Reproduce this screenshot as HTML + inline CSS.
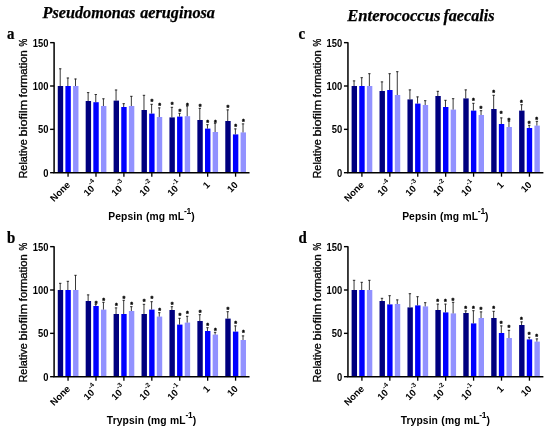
<!DOCTYPE html>
<html><head><meta charset="utf-8"><title>Figure</title>
<style>html,body{margin:0;padding:0;background:#fff}svg{display:block}</style></head>
<body>
<svg width="550" height="432" viewBox="0 0 550 432">
<rect width="550" height="432" fill="#fff"/>
<g font-family="'Liberation Serif', serif" font-weight="bold" fill="#000" stroke="#000" stroke-width="0.25">
<text x="42.6" y="17.9" font-size="16.3" font-style="italic" textLength="92.6" lengthAdjust="spacingAndGlyphs">Pseudomonas</text>
<text x="140.2" y="17.9" font-size="16.3" font-style="italic" textLength="74.8" lengthAdjust="spacingAndGlyphs">aeruginosa</text>
<text x="347.3" y="21" font-size="16.3" font-style="italic" textLength="93.1" lengthAdjust="spacingAndGlyphs">Enterococcus</text>
<text x="443.4" y="21" font-size="16.3" font-style="italic" textLength="51.1" lengthAdjust="spacingAndGlyphs">faecalis</text>
<text transform="translate(7.0 38.6) scale(0.9 1)" font-size="16.5">a</text>
<text transform="translate(7.0 242.9) scale(0.9 1)" font-size="16.5">b</text>
<text transform="translate(298.4 38.6) scale(0.9 1)" font-size="16.5">c</text>
<text transform="translate(298.4 242.9) scale(0.9 1)" font-size="16.5">d</text>
</g>
<g id="chart-a">
<rect x="57.76" y="86.00" width="5.4" height="86.70" fill="#00007f"/>
<path d="M60.21 86.00V68.50M59.01 68.80H61.41" stroke="#222" stroke-width="0.9" fill="none"/>
<rect x="65.41" y="86.00" width="5.4" height="86.70" fill="#0000ff"/>
<path d="M67.86 86.00V77.70M66.66 78.00H69.06" stroke="#222" stroke-width="0.9" fill="none"/>
<rect x="73.06" y="86.00" width="5.4" height="86.70" fill="#9292ff"/>
<path d="M75.51 86.00V78.70M74.31 79.00H76.71" stroke="#222" stroke-width="0.9" fill="none"/>
<rect x="85.68" y="101.00" width="5.4" height="71.70" fill="#00007f"/>
<path d="M88.13 101.00V92.30M86.93 92.60H89.33" stroke="#222" stroke-width="0.9" fill="none"/>
<rect x="93.33" y="102.20" width="5.4" height="70.50" fill="#0000ff"/>
<path d="M95.78 102.20V94.20M94.58 94.50H96.98" stroke="#222" stroke-width="0.9" fill="none"/>
<rect x="100.98" y="106.00" width="5.4" height="66.70" fill="#9292ff"/>
<path d="M103.43 106.00V98.50M102.23 98.80H104.63" stroke="#222" stroke-width="0.9" fill="none"/>
<rect x="113.60" y="100.60" width="5.4" height="72.10" fill="#00007f"/>
<path d="M116.05 100.60V89.70M114.85 90.00H117.25" stroke="#222" stroke-width="0.9" fill="none"/>
<rect x="121.25" y="107.00" width="5.4" height="65.70" fill="#0000ff"/>
<path d="M123.70 107.00V103.40M122.50 103.70H124.90" stroke="#222" stroke-width="0.9" fill="none"/>
<rect x="128.90" y="106.00" width="5.4" height="66.70" fill="#9292ff"/>
<path d="M131.35 106.00V96.00M130.15 96.30H132.55" stroke="#222" stroke-width="0.9" fill="none"/>
<rect x="141.52" y="110.00" width="5.4" height="62.70" fill="#00007f"/>
<path d="M143.97 110.00V95.00M142.77 95.30H145.17" stroke="#222" stroke-width="0.9" fill="none"/>
<rect x="149.17" y="113.60" width="5.4" height="59.10" fill="#0000ff"/>
<path d="M151.62 113.60V104.00M150.42 104.30H152.82" stroke="#222" stroke-width="0.9" fill="none"/>
<text x="151.92" y="104.40" font-family="'Liberation Sans', sans-serif" font-weight="bold" font-size="7.2" text-anchor="middle" fill="#000" stroke="#000" stroke-width="0.4">*</text>
<rect x="156.82" y="117.00" width="5.4" height="55.70" fill="#9292ff"/>
<path d="M159.27 117.00V107.60M158.07 107.90H160.47" stroke="#222" stroke-width="0.9" fill="none"/>
<text x="159.57" y="108.20" font-family="'Liberation Sans', sans-serif" font-weight="bold" font-size="7.2" text-anchor="middle" fill="#000" stroke="#000" stroke-width="0.4">*</text>
<rect x="169.44" y="117.40" width="5.4" height="55.30" fill="#00007f"/>
<path d="M171.89 117.40V107.00M170.69 107.30H173.09" stroke="#222" stroke-width="0.9" fill="none"/>
<text x="172.19" y="107.20" font-family="'Liberation Sans', sans-serif" font-weight="bold" font-size="7.2" text-anchor="middle" fill="#000" stroke="#000" stroke-width="0.4">*</text>
<rect x="177.09" y="116.60" width="5.4" height="56.10" fill="#0000ff"/>
<path d="M179.54 116.60V113.00M178.34 113.30H180.74" stroke="#222" stroke-width="0.9" fill="none"/>
<text x="179.84" y="113.80" font-family="'Liberation Sans', sans-serif" font-weight="bold" font-size="7.2" text-anchor="middle" fill="#000" stroke="#000" stroke-width="0.4">*</text>
<rect x="184.74" y="116.20" width="5.4" height="56.50" fill="#9292ff"/>
<path d="M187.19 116.20V105.80M185.99 106.10H188.39" stroke="#222" stroke-width="0.9" fill="none"/>
<text x="187.49" y="107.80" font-family="'Liberation Sans', sans-serif" font-weight="bold" font-size="7.2" text-anchor="middle" fill="#000" stroke="#000" stroke-width="0.4">*</text>
<rect x="197.36" y="120.00" width="5.4" height="52.70" fill="#00007f"/>
<path d="M199.81 120.00V108.00M198.61 108.30H201.01" stroke="#222" stroke-width="0.9" fill="none"/>
<text x="200.11" y="108.80" font-family="'Liberation Sans', sans-serif" font-weight="bold" font-size="7.2" text-anchor="middle" fill="#000" stroke="#000" stroke-width="0.4">*</text>
<rect x="205.01" y="128.60" width="5.4" height="44.10" fill="#0000ff"/>
<path d="M207.46 128.60V124.40M206.26 124.70H208.66" stroke="#222" stroke-width="0.9" fill="none"/>
<text x="207.76" y="125.30" font-family="'Liberation Sans', sans-serif" font-weight="bold" font-size="7.2" text-anchor="middle" fill="#000" stroke="#000" stroke-width="0.4">*</text>
<rect x="212.66" y="132.00" width="5.4" height="40.70" fill="#9292ff"/>
<path d="M215.11 132.00V123.00M213.91 123.30H216.31" stroke="#222" stroke-width="0.9" fill="none"/>
<text x="215.41" y="124.80" font-family="'Liberation Sans', sans-serif" font-weight="bold" font-size="7.2" text-anchor="middle" fill="#000" stroke="#000" stroke-width="0.4">*</text>
<rect x="225.28" y="121.00" width="5.4" height="51.70" fill="#00007f"/>
<path d="M227.73 121.00V109.60M226.53 109.90H228.93" stroke="#222" stroke-width="0.9" fill="none"/>
<text x="228.03" y="109.80" font-family="'Liberation Sans', sans-serif" font-weight="bold" font-size="7.2" text-anchor="middle" fill="#000" stroke="#000" stroke-width="0.4">*</text>
<rect x="232.93" y="134.40" width="5.4" height="38.30" fill="#0000ff"/>
<path d="M235.38 134.40V128.60M234.18 128.90H236.58" stroke="#222" stroke-width="0.9" fill="none"/>
<text x="235.68" y="129.40" font-family="'Liberation Sans', sans-serif" font-weight="bold" font-size="7.2" text-anchor="middle" fill="#000" stroke="#000" stroke-width="0.4">*</text>
<rect x="240.58" y="132.40" width="5.4" height="40.30" fill="#9292ff"/>
<path d="M243.03 132.40V123.60M241.83 123.90H244.23" stroke="#222" stroke-width="0.9" fill="none"/>
<text x="243.33" y="124.40" font-family="'Liberation Sans', sans-serif" font-weight="bold" font-size="7.2" text-anchor="middle" fill="#000" stroke="#000" stroke-width="0.4">*</text>
<path d="M54.1 42.15V172.7H249.54" stroke="#000" stroke-width="1.5" fill="none"/>
<path d="M50.10 172.70H54.1" stroke="#000" stroke-width="1.4"/>
<text transform="translate(48.40 176.70) scale(0.94 1)" font-family="'Liberation Sans', sans-serif" font-weight="bold" font-size="10" text-anchor="end">0</text>
<path d="M50.10 129.35H54.1" stroke="#000" stroke-width="1.4"/>
<text transform="translate(48.40 133.35) scale(0.94 1)" font-family="'Liberation Sans', sans-serif" font-weight="bold" font-size="10" text-anchor="end">50</text>
<path d="M50.10 86.00H54.1" stroke="#000" stroke-width="1.4"/>
<text transform="translate(48.40 90.00) scale(0.94 1)" font-family="'Liberation Sans', sans-serif" font-weight="bold" font-size="10" text-anchor="end">100</text>
<path d="M50.10 42.65H54.1" stroke="#000" stroke-width="1.4"/>
<text transform="translate(48.40 46.65) scale(0.94 1)" font-family="'Liberation Sans', sans-serif" font-weight="bold" font-size="10" text-anchor="end">150</text>
<path d="M68.06 172.7V176.70" stroke="#000" stroke-width="1.3"/>
<text transform="translate(70.86 185.40) rotate(-45)" font-family="'Liberation Sans', sans-serif" font-weight="bold" font-size="9.5" text-anchor="end">None</text>
<path d="M95.98 172.7V176.70" stroke="#000" stroke-width="1.3"/>
<text transform="translate(98.78 185.40) rotate(-45)" font-family="'Liberation Sans', sans-serif" font-weight="bold" font-size="9.5" text-anchor="end">10<tspan font-size="6.5" dy="-5.8" dx="-0.3">-4</tspan></text>
<path d="M123.90 172.7V176.70" stroke="#000" stroke-width="1.3"/>
<text transform="translate(126.70 185.40) rotate(-45)" font-family="'Liberation Sans', sans-serif" font-weight="bold" font-size="9.5" text-anchor="end">10<tspan font-size="6.5" dy="-5.8" dx="-0.3">-3</tspan></text>
<path d="M151.82 172.7V176.70" stroke="#000" stroke-width="1.3"/>
<text transform="translate(154.62 185.40) rotate(-45)" font-family="'Liberation Sans', sans-serif" font-weight="bold" font-size="9.5" text-anchor="end">10<tspan font-size="6.5" dy="-5.8" dx="-0.3">-2</tspan></text>
<path d="M179.74 172.7V176.70" stroke="#000" stroke-width="1.3"/>
<text transform="translate(182.54 185.40) rotate(-45)" font-family="'Liberation Sans', sans-serif" font-weight="bold" font-size="9.5" text-anchor="end">10<tspan font-size="6.5" dy="-5.8" dx="-0.3">-1</tspan></text>
<path d="M207.66 172.7V176.70" stroke="#000" stroke-width="1.3"/>
<text transform="translate(210.46 185.40) rotate(-45)" font-family="'Liberation Sans', sans-serif" font-weight="bold" font-size="9.5" text-anchor="end">1</text>
<path d="M235.58 172.7V176.70" stroke="#000" stroke-width="1.3"/>
<text transform="translate(238.38 185.40) rotate(-45)" font-family="'Liberation Sans', sans-serif" font-weight="bold" font-size="9.5" text-anchor="end">10</text>
<text transform="translate(26.80 178.50) rotate(-90)" font-family="'Liberation Sans', sans-serif" font-size="10.3" textLength="39.3" lengthAdjust="spacingAndGlyphs" stroke="#000" stroke-width="0.3">Relative</text>
<text transform="translate(26.80 136.50) rotate(-90)" font-family="'Liberation Sans', sans-serif" font-size="10.3" textLength="36.7" lengthAdjust="spacingAndGlyphs" stroke="#000" stroke-width="0.3">biofilm</text>
<text transform="translate(26.80 97.20) rotate(-90)" font-family="'Liberation Sans', sans-serif" font-size="10.3" textLength="47.0" lengthAdjust="spacingAndGlyphs" stroke="#000" stroke-width="0.3">formation</text>
<text transform="translate(26.80 46.50) rotate(-90)" font-family="'Liberation Sans', sans-serif" font-size="10.3" textLength="7.8" lengthAdjust="spacingAndGlyphs" stroke="#000" stroke-width="0.3">%</text>
<text x="151.52" y="219.70" font-family="'Liberation Sans', sans-serif" font-weight="bold" font-size="10.3" text-anchor="middle" letter-spacing="0.1" word-spacing="0.4">Pepsin (mg mL<tspan font-size="8.5" dy="-5.6" dx="-0.2" letter-spacing="-0.3">-1</tspan><tspan dy="5.6" dx="0.2">)</tspan></text>
</g>
<g id="chart-b">
<rect x="57.76" y="290.00" width="5.4" height="86.70" fill="#00007f"/>
<path d="M60.21 290.00V283.00M59.01 283.30H61.41" stroke="#222" stroke-width="0.9" fill="none"/>
<rect x="65.41" y="290.00" width="5.4" height="86.70" fill="#0000ff"/>
<path d="M67.86 290.00V281.00M66.66 281.30H69.06" stroke="#222" stroke-width="0.9" fill="none"/>
<rect x="73.06" y="290.00" width="5.4" height="86.70" fill="#9292ff"/>
<path d="M75.51 290.00V275.00M74.31 275.30H76.71" stroke="#222" stroke-width="0.9" fill="none"/>
<rect x="85.68" y="301.00" width="5.4" height="75.70" fill="#00007f"/>
<path d="M88.13 301.00V294.60M86.93 294.90H89.33" stroke="#222" stroke-width="0.9" fill="none"/>
<rect x="93.33" y="306.00" width="5.4" height="70.70" fill="#0000ff"/>
<path d="M95.78 306.00V304.00M94.58 304.30H96.98" stroke="#222" stroke-width="0.9" fill="none"/>
<text x="96.08" y="306.40" font-family="'Liberation Sans', sans-serif" font-weight="bold" font-size="7.2" text-anchor="middle" fill="#000" stroke="#000" stroke-width="0.4">*</text>
<rect x="100.98" y="309.60" width="5.4" height="67.10" fill="#9292ff"/>
<path d="M103.43 309.60V302.00M102.23 302.30H104.63" stroke="#222" stroke-width="0.9" fill="none"/>
<text x="103.73" y="303.40" font-family="'Liberation Sans', sans-serif" font-weight="bold" font-size="7.2" text-anchor="middle" fill="#000" stroke="#000" stroke-width="0.4">*</text>
<rect x="113.60" y="314.00" width="5.4" height="62.70" fill="#00007f"/>
<path d="M116.05 314.00V307.60M114.85 307.90H117.25" stroke="#222" stroke-width="0.9" fill="none"/>
<text x="116.35" y="307.80" font-family="'Liberation Sans', sans-serif" font-weight="bold" font-size="7.2" text-anchor="middle" fill="#000" stroke="#000" stroke-width="0.4">*</text>
<rect x="121.25" y="314.00" width="5.4" height="62.70" fill="#0000ff"/>
<path d="M123.70 314.00V300.00M122.50 300.30H124.90" stroke="#222" stroke-width="0.9" fill="none"/>
<text x="124.00" y="300.80" font-family="'Liberation Sans', sans-serif" font-weight="bold" font-size="7.2" text-anchor="middle" fill="#000" stroke="#000" stroke-width="0.4">*</text>
<rect x="128.90" y="311.00" width="5.4" height="65.70" fill="#9292ff"/>
<path d="M131.35 311.00V306.40M130.15 306.70H132.55" stroke="#222" stroke-width="0.9" fill="none"/>
<text x="131.65" y="307.20" font-family="'Liberation Sans', sans-serif" font-weight="bold" font-size="7.2" text-anchor="middle" fill="#000" stroke="#000" stroke-width="0.4">*</text>
<rect x="141.52" y="314.00" width="5.4" height="62.70" fill="#00007f"/>
<path d="M143.97 314.00V304.00M142.77 304.30H145.17" stroke="#222" stroke-width="0.9" fill="none"/>
<text x="144.27" y="304.40" font-family="'Liberation Sans', sans-serif" font-weight="bold" font-size="7.2" text-anchor="middle" fill="#000" stroke="#000" stroke-width="0.4">*</text>
<rect x="149.17" y="309.60" width="5.4" height="67.10" fill="#0000ff"/>
<path d="M151.62 309.60V301.40M150.42 301.70H152.82" stroke="#222" stroke-width="0.9" fill="none"/>
<text x="151.92" y="301.30" font-family="'Liberation Sans', sans-serif" font-weight="bold" font-size="7.2" text-anchor="middle" fill="#000" stroke="#000" stroke-width="0.4">*</text>
<rect x="156.82" y="316.60" width="5.4" height="60.10" fill="#9292ff"/>
<path d="M159.27 316.60V312.40M158.07 312.70H160.47" stroke="#222" stroke-width="0.9" fill="none"/>
<text x="159.57" y="313.00" font-family="'Liberation Sans', sans-serif" font-weight="bold" font-size="7.2" text-anchor="middle" fill="#000" stroke="#000" stroke-width="0.4">*</text>
<rect x="169.44" y="310.00" width="5.4" height="66.70" fill="#00007f"/>
<path d="M171.89 310.00V306.40M170.69 306.70H173.09" stroke="#222" stroke-width="0.9" fill="none"/>
<text x="172.19" y="307.20" font-family="'Liberation Sans', sans-serif" font-weight="bold" font-size="7.2" text-anchor="middle" fill="#000" stroke="#000" stroke-width="0.4">*</text>
<rect x="177.09" y="324.60" width="5.4" height="52.10" fill="#0000ff"/>
<path d="M179.54 324.60V318.00M178.34 318.30H180.74" stroke="#222" stroke-width="0.9" fill="none"/>
<text x="179.84" y="318.20" font-family="'Liberation Sans', sans-serif" font-weight="bold" font-size="7.2" text-anchor="middle" fill="#000" stroke="#000" stroke-width="0.4">*</text>
<rect x="184.74" y="322.60" width="5.4" height="54.10" fill="#9292ff"/>
<path d="M187.19 322.60V316.00M185.99 316.30H188.39" stroke="#222" stroke-width="0.9" fill="none"/>
<text x="187.49" y="316.20" font-family="'Liberation Sans', sans-serif" font-weight="bold" font-size="7.2" text-anchor="middle" fill="#000" stroke="#000" stroke-width="0.4">*</text>
<rect x="197.36" y="321.00" width="5.4" height="55.70" fill="#00007f"/>
<path d="M199.81 321.00V314.40M198.61 314.70H201.01" stroke="#222" stroke-width="0.9" fill="none"/>
<text x="200.11" y="314.80" font-family="'Liberation Sans', sans-serif" font-weight="bold" font-size="7.2" text-anchor="middle" fill="#000" stroke="#000" stroke-width="0.4">*</text>
<rect x="205.01" y="331.00" width="5.4" height="45.70" fill="#0000ff"/>
<path d="M207.46 331.00V327.40M206.26 327.70H208.66" stroke="#222" stroke-width="0.9" fill="none"/>
<text x="207.76" y="328.40" font-family="'Liberation Sans', sans-serif" font-weight="bold" font-size="7.2" text-anchor="middle" fill="#000" stroke="#000" stroke-width="0.4">*</text>
<rect x="212.66" y="334.60" width="5.4" height="42.10" fill="#9292ff"/>
<path d="M215.11 334.60V332.00M213.91 332.30H216.31" stroke="#222" stroke-width="0.9" fill="none"/>
<text x="215.41" y="332.80" font-family="'Liberation Sans', sans-serif" font-weight="bold" font-size="7.2" text-anchor="middle" fill="#000" stroke="#000" stroke-width="0.4">*</text>
<rect x="225.28" y="318.60" width="5.4" height="58.10" fill="#00007f"/>
<path d="M227.73 318.60V311.40M226.53 311.70H228.93" stroke="#222" stroke-width="0.9" fill="none"/>
<text x="228.03" y="311.80" font-family="'Liberation Sans', sans-serif" font-weight="bold" font-size="7.2" text-anchor="middle" fill="#000" stroke="#000" stroke-width="0.4">*</text>
<rect x="232.93" y="331.60" width="5.4" height="45.10" fill="#0000ff"/>
<path d="M235.38 331.60V325.60M234.18 325.90H236.58" stroke="#222" stroke-width="0.9" fill="none"/>
<text x="235.68" y="325.80" font-family="'Liberation Sans', sans-serif" font-weight="bold" font-size="7.2" text-anchor="middle" fill="#000" stroke="#000" stroke-width="0.4">*</text>
<rect x="240.58" y="340.00" width="5.4" height="36.70" fill="#9292ff"/>
<path d="M243.03 340.00V335.60M241.83 335.90H244.23" stroke="#222" stroke-width="0.9" fill="none"/>
<text x="243.33" y="335.20" font-family="'Liberation Sans', sans-serif" font-weight="bold" font-size="7.2" text-anchor="middle" fill="#000" stroke="#000" stroke-width="0.4">*</text>
<path d="M54.1 246.15V376.7H249.54" stroke="#000" stroke-width="1.5" fill="none"/>
<path d="M50.10 376.70H54.1" stroke="#000" stroke-width="1.4"/>
<text transform="translate(48.40 380.70) scale(0.94 1)" font-family="'Liberation Sans', sans-serif" font-weight="bold" font-size="10" text-anchor="end">0</text>
<path d="M50.10 333.35H54.1" stroke="#000" stroke-width="1.4"/>
<text transform="translate(48.40 337.35) scale(0.94 1)" font-family="'Liberation Sans', sans-serif" font-weight="bold" font-size="10" text-anchor="end">50</text>
<path d="M50.10 290.00H54.1" stroke="#000" stroke-width="1.4"/>
<text transform="translate(48.40 294.00) scale(0.94 1)" font-family="'Liberation Sans', sans-serif" font-weight="bold" font-size="10" text-anchor="end">100</text>
<path d="M50.10 246.65H54.1" stroke="#000" stroke-width="1.4"/>
<text transform="translate(48.40 250.65) scale(0.94 1)" font-family="'Liberation Sans', sans-serif" font-weight="bold" font-size="10" text-anchor="end">150</text>
<path d="M68.06 376.7V380.70" stroke="#000" stroke-width="1.3"/>
<text transform="translate(70.86 389.40) rotate(-45)" font-family="'Liberation Sans', sans-serif" font-weight="bold" font-size="9.5" text-anchor="end">None</text>
<path d="M95.98 376.7V380.70" stroke="#000" stroke-width="1.3"/>
<text transform="translate(98.78 389.40) rotate(-45)" font-family="'Liberation Sans', sans-serif" font-weight="bold" font-size="9.5" text-anchor="end">10<tspan font-size="6.5" dy="-5.8" dx="-0.3">-4</tspan></text>
<path d="M123.90 376.7V380.70" stroke="#000" stroke-width="1.3"/>
<text transform="translate(126.70 389.40) rotate(-45)" font-family="'Liberation Sans', sans-serif" font-weight="bold" font-size="9.5" text-anchor="end">10<tspan font-size="6.5" dy="-5.8" dx="-0.3">-3</tspan></text>
<path d="M151.82 376.7V380.70" stroke="#000" stroke-width="1.3"/>
<text transform="translate(154.62 389.40) rotate(-45)" font-family="'Liberation Sans', sans-serif" font-weight="bold" font-size="9.5" text-anchor="end">10<tspan font-size="6.5" dy="-5.8" dx="-0.3">-2</tspan></text>
<path d="M179.74 376.7V380.70" stroke="#000" stroke-width="1.3"/>
<text transform="translate(182.54 389.40) rotate(-45)" font-family="'Liberation Sans', sans-serif" font-weight="bold" font-size="9.5" text-anchor="end">10<tspan font-size="6.5" dy="-5.8" dx="-0.3">-1</tspan></text>
<path d="M207.66 376.7V380.70" stroke="#000" stroke-width="1.3"/>
<text transform="translate(210.46 389.40) rotate(-45)" font-family="'Liberation Sans', sans-serif" font-weight="bold" font-size="9.5" text-anchor="end">1</text>
<path d="M235.58 376.7V380.70" stroke="#000" stroke-width="1.3"/>
<text transform="translate(238.38 389.40) rotate(-45)" font-family="'Liberation Sans', sans-serif" font-weight="bold" font-size="9.5" text-anchor="end">10</text>
<text transform="translate(26.80 382.50) rotate(-90)" font-family="'Liberation Sans', sans-serif" font-size="10.3" textLength="39.3" lengthAdjust="spacingAndGlyphs" stroke="#000" stroke-width="0.3">Relative</text>
<text transform="translate(26.80 340.50) rotate(-90)" font-family="'Liberation Sans', sans-serif" font-size="10.3" textLength="36.7" lengthAdjust="spacingAndGlyphs" stroke="#000" stroke-width="0.3">biofilm</text>
<text transform="translate(26.80 301.20) rotate(-90)" font-family="'Liberation Sans', sans-serif" font-size="10.3" textLength="47.0" lengthAdjust="spacingAndGlyphs" stroke="#000" stroke-width="0.3">formation</text>
<text transform="translate(26.80 250.50) rotate(-90)" font-family="'Liberation Sans', sans-serif" font-size="10.3" textLength="7.8" lengthAdjust="spacingAndGlyphs" stroke="#000" stroke-width="0.3">%</text>
<text x="151.52" y="423.70" font-family="'Liberation Sans', sans-serif" font-weight="bold" font-size="10.3" text-anchor="middle" letter-spacing="0.1" word-spacing="0.4">Trypsin (mg mL<tspan font-size="8.5" dy="-5.6" dx="-0.2" letter-spacing="-0.3">-1</tspan><tspan dy="5.6" dx="0.2">)</tspan></text>
</g>
<g id="chart-c">
<rect x="351.61" y="86.00" width="5.4" height="86.70" fill="#00007f"/>
<path d="M354.06 86.00V80.60M352.86 80.90H355.26" stroke="#222" stroke-width="0.9" fill="none"/>
<rect x="359.26" y="86.00" width="5.4" height="86.70" fill="#0000ff"/>
<path d="M361.71 86.00V77.40M360.51 77.70H362.91" stroke="#222" stroke-width="0.9" fill="none"/>
<rect x="366.91" y="86.00" width="5.4" height="86.70" fill="#9292ff"/>
<path d="M369.36 86.00V73.40M368.16 73.70H370.56" stroke="#222" stroke-width="0.9" fill="none"/>
<rect x="379.53" y="91.00" width="5.4" height="81.70" fill="#00007f"/>
<path d="M381.98 91.00V81.60M380.78 81.90H383.18" stroke="#222" stroke-width="0.9" fill="none"/>
<rect x="387.18" y="90.00" width="5.4" height="82.70" fill="#0000ff"/>
<path d="M389.63 90.00V73.40M388.43 73.70H390.83" stroke="#222" stroke-width="0.9" fill="none"/>
<rect x="394.83" y="95.00" width="5.4" height="77.70" fill="#9292ff"/>
<path d="M397.28 95.00V71.40M396.08 71.70H398.48" stroke="#222" stroke-width="0.9" fill="none"/>
<rect x="407.45" y="99.40" width="5.4" height="73.30" fill="#00007f"/>
<path d="M409.90 99.40V89.60M408.70 89.90H411.10" stroke="#222" stroke-width="0.9" fill="none"/>
<rect x="415.10" y="103.60" width="5.4" height="69.10" fill="#0000ff"/>
<path d="M417.55 103.60V96.60M416.35 96.90H418.75" stroke="#222" stroke-width="0.9" fill="none"/>
<rect x="422.75" y="105.00" width="5.4" height="67.70" fill="#9292ff"/>
<path d="M425.20 105.00V100.40M424.00 100.70H426.40" stroke="#222" stroke-width="0.9" fill="none"/>
<rect x="435.37" y="96.00" width="5.4" height="76.70" fill="#00007f"/>
<path d="M437.82 96.00V91.00M436.62 91.30H439.02" stroke="#222" stroke-width="0.9" fill="none"/>
<rect x="443.02" y="107.00" width="5.4" height="65.70" fill="#0000ff"/>
<path d="M445.47 107.00V100.00M444.27 100.30H446.67" stroke="#222" stroke-width="0.9" fill="none"/>
<rect x="450.67" y="109.60" width="5.4" height="63.10" fill="#9292ff"/>
<path d="M453.12 109.60V98.40M451.92 98.70H454.32" stroke="#222" stroke-width="0.9" fill="none"/>
<rect x="463.29" y="98.40" width="5.4" height="74.30" fill="#00007f"/>
<path d="M465.74 98.40V89.60M464.54 89.90H466.94" stroke="#222" stroke-width="0.9" fill="none"/>
<rect x="470.94" y="110.60" width="5.4" height="62.10" fill="#0000ff"/>
<path d="M473.39 110.60V103.00M472.19 103.30H474.59" stroke="#222" stroke-width="0.9" fill="none"/>
<text x="473.29" y="103.40" font-family="'Liberation Sans', sans-serif" font-weight="bold" font-size="7.2" text-anchor="middle" fill="#000" stroke="#000" stroke-width="0.4">*</text>
<rect x="478.59" y="115.00" width="5.4" height="57.70" fill="#9292ff"/>
<path d="M481.04 115.00V110.40M479.84 110.70H482.24" stroke="#222" stroke-width="0.9" fill="none"/>
<text x="480.94" y="111.20" font-family="'Liberation Sans', sans-serif" font-weight="bold" font-size="7.2" text-anchor="middle" fill="#000" stroke="#000" stroke-width="0.4">*</text>
<rect x="491.21" y="109.00" width="5.4" height="63.70" fill="#00007f"/>
<path d="M493.66 109.00V95.00M492.46 95.30H494.86" stroke="#222" stroke-width="0.9" fill="none"/>
<text x="493.56" y="95.20" font-family="'Liberation Sans', sans-serif" font-weight="bold" font-size="7.2" text-anchor="middle" fill="#000" stroke="#000" stroke-width="0.4">*</text>
<rect x="498.86" y="124.00" width="5.4" height="48.70" fill="#0000ff"/>
<path d="M501.31 124.00V117.60M500.11 117.90H502.51" stroke="#222" stroke-width="0.9" fill="none"/>
<text x="501.21" y="116.40" font-family="'Liberation Sans', sans-serif" font-weight="bold" font-size="7.2" text-anchor="middle" fill="#000" stroke="#000" stroke-width="0.4">*</text>
<rect x="506.51" y="127.00" width="5.4" height="45.70" fill="#9292ff"/>
<path d="M508.96 127.00V121.00M507.76 121.30H510.16" stroke="#222" stroke-width="0.9" fill="none"/>
<text x="508.86" y="122.80" font-family="'Liberation Sans', sans-serif" font-weight="bold" font-size="7.2" text-anchor="middle" fill="#000" stroke="#000" stroke-width="0.4">*</text>
<rect x="519.13" y="110.60" width="5.4" height="62.10" fill="#00007f"/>
<path d="M521.58 110.60V104.40M520.38 104.70H522.78" stroke="#222" stroke-width="0.9" fill="none"/>
<text x="521.48" y="105.20" font-family="'Liberation Sans', sans-serif" font-weight="bold" font-size="7.2" text-anchor="middle" fill="#000" stroke="#000" stroke-width="0.4">*</text>
<rect x="526.78" y="128.00" width="5.4" height="44.70" fill="#0000ff"/>
<path d="M529.23 128.00V125.00M528.03 125.30H530.43" stroke="#222" stroke-width="0.9" fill="none"/>
<text x="529.13" y="126.40" font-family="'Liberation Sans', sans-serif" font-weight="bold" font-size="7.2" text-anchor="middle" fill="#000" stroke="#000" stroke-width="0.4">*</text>
<rect x="534.43" y="125.60" width="5.4" height="47.10" fill="#9292ff"/>
<path d="M536.88 125.60V121.00M535.68 121.30H538.08" stroke="#222" stroke-width="0.9" fill="none"/>
<text x="536.78" y="122.20" font-family="'Liberation Sans', sans-serif" font-weight="bold" font-size="7.2" text-anchor="middle" fill="#000" stroke="#000" stroke-width="0.4">*</text>
<path d="M347.95 42.15V172.7H543.39" stroke="#000" stroke-width="1.5" fill="none"/>
<path d="M343.95 172.70H347.95" stroke="#000" stroke-width="1.4"/>
<text transform="translate(342.25 176.70) scale(0.94 1)" font-family="'Liberation Sans', sans-serif" font-weight="bold" font-size="10" text-anchor="end">0</text>
<path d="M343.95 129.35H347.95" stroke="#000" stroke-width="1.4"/>
<text transform="translate(342.25 133.35) scale(0.94 1)" font-family="'Liberation Sans', sans-serif" font-weight="bold" font-size="10" text-anchor="end">50</text>
<path d="M343.95 86.00H347.95" stroke="#000" stroke-width="1.4"/>
<text transform="translate(342.25 90.00) scale(0.94 1)" font-family="'Liberation Sans', sans-serif" font-weight="bold" font-size="10" text-anchor="end">100</text>
<path d="M343.95 42.65H347.95" stroke="#000" stroke-width="1.4"/>
<text transform="translate(342.25 46.65) scale(0.94 1)" font-family="'Liberation Sans', sans-serif" font-weight="bold" font-size="10" text-anchor="end">150</text>
<path d="M361.91 172.7V176.70" stroke="#000" stroke-width="1.3"/>
<text transform="translate(364.71 185.40) rotate(-45)" font-family="'Liberation Sans', sans-serif" font-weight="bold" font-size="9.5" text-anchor="end">None</text>
<path d="M389.83 172.7V176.70" stroke="#000" stroke-width="1.3"/>
<text transform="translate(392.63 185.40) rotate(-45)" font-family="'Liberation Sans', sans-serif" font-weight="bold" font-size="9.5" text-anchor="end">10<tspan font-size="6.5" dy="-5.8" dx="-0.3">-4</tspan></text>
<path d="M417.75 172.7V176.70" stroke="#000" stroke-width="1.3"/>
<text transform="translate(420.55 185.40) rotate(-45)" font-family="'Liberation Sans', sans-serif" font-weight="bold" font-size="9.5" text-anchor="end">10<tspan font-size="6.5" dy="-5.8" dx="-0.3">-3</tspan></text>
<path d="M445.67 172.7V176.70" stroke="#000" stroke-width="1.3"/>
<text transform="translate(448.47 185.40) rotate(-45)" font-family="'Liberation Sans', sans-serif" font-weight="bold" font-size="9.5" text-anchor="end">10<tspan font-size="6.5" dy="-5.8" dx="-0.3">-2</tspan></text>
<path d="M473.59 172.7V176.70" stroke="#000" stroke-width="1.3"/>
<text transform="translate(476.39 185.40) rotate(-45)" font-family="'Liberation Sans', sans-serif" font-weight="bold" font-size="9.5" text-anchor="end">10<tspan font-size="6.5" dy="-5.8" dx="-0.3">-1</tspan></text>
<path d="M501.51 172.7V176.70" stroke="#000" stroke-width="1.3"/>
<text transform="translate(504.31 185.40) rotate(-45)" font-family="'Liberation Sans', sans-serif" font-weight="bold" font-size="9.5" text-anchor="end">1</text>
<path d="M529.43 172.7V176.70" stroke="#000" stroke-width="1.3"/>
<text transform="translate(532.23 185.40) rotate(-45)" font-family="'Liberation Sans', sans-serif" font-weight="bold" font-size="9.5" text-anchor="end">10</text>
<text transform="translate(320.65 178.50) rotate(-90)" font-family="'Liberation Sans', sans-serif" font-size="10.3" textLength="39.3" lengthAdjust="spacingAndGlyphs" stroke="#000" stroke-width="0.3">Relative</text>
<text transform="translate(320.65 136.50) rotate(-90)" font-family="'Liberation Sans', sans-serif" font-size="10.3" textLength="36.7" lengthAdjust="spacingAndGlyphs" stroke="#000" stroke-width="0.3">biofilm</text>
<text transform="translate(320.65 97.20) rotate(-90)" font-family="'Liberation Sans', sans-serif" font-size="10.3" textLength="47.0" lengthAdjust="spacingAndGlyphs" stroke="#000" stroke-width="0.3">formation</text>
<text transform="translate(320.65 46.50) rotate(-90)" font-family="'Liberation Sans', sans-serif" font-size="10.3" textLength="7.8" lengthAdjust="spacingAndGlyphs" stroke="#000" stroke-width="0.3">%</text>
<text x="445.37" y="219.70" font-family="'Liberation Sans', sans-serif" font-weight="bold" font-size="10.3" text-anchor="middle" letter-spacing="0.1" word-spacing="0.4">Pepsin (mg mL<tspan font-size="8.5" dy="-5.6" dx="-0.2" letter-spacing="-0.3">-1</tspan><tspan dy="5.6" dx="0.2">)</tspan></text>
</g>
<g id="chart-d">
<rect x="351.61" y="290.00" width="5.4" height="86.70" fill="#00007f"/>
<path d="M354.06 290.00V280.00M352.86 280.30H355.26" stroke="#222" stroke-width="0.9" fill="none"/>
<rect x="359.26" y="290.00" width="5.4" height="86.70" fill="#0000ff"/>
<path d="M361.71 290.00V282.00M360.51 282.30H362.91" stroke="#222" stroke-width="0.9" fill="none"/>
<rect x="366.91" y="290.00" width="5.4" height="86.70" fill="#9292ff"/>
<path d="M369.36 290.00V280.00M368.16 280.30H370.56" stroke="#222" stroke-width="0.9" fill="none"/>
<rect x="379.53" y="301.00" width="5.4" height="75.70" fill="#00007f"/>
<path d="M381.98 301.00V298.00M380.78 298.30H383.18" stroke="#222" stroke-width="0.9" fill="none"/>
<rect x="387.18" y="304.40" width="5.4" height="72.30" fill="#0000ff"/>
<path d="M389.63 304.40V295.40M388.43 295.70H390.83" stroke="#222" stroke-width="0.9" fill="none"/>
<rect x="394.83" y="304.00" width="5.4" height="72.70" fill="#9292ff"/>
<path d="M397.28 304.00V299.60M396.08 299.90H398.48" stroke="#222" stroke-width="0.9" fill="none"/>
<rect x="407.45" y="307.40" width="5.4" height="69.30" fill="#00007f"/>
<path d="M409.90 307.40V293.40M408.70 293.70H411.10" stroke="#222" stroke-width="0.9" fill="none"/>
<rect x="415.10" y="305.40" width="5.4" height="71.30" fill="#0000ff"/>
<path d="M417.55 305.40V296.40M416.35 296.70H418.75" stroke="#222" stroke-width="0.9" fill="none"/>
<rect x="422.75" y="306.40" width="5.4" height="70.30" fill="#9292ff"/>
<path d="M425.20 306.40V302.40M424.00 302.70H426.40" stroke="#222" stroke-width="0.9" fill="none"/>
<rect x="435.37" y="310.00" width="5.4" height="66.70" fill="#00007f"/>
<path d="M437.82 310.00V303.80M436.62 304.10H439.02" stroke="#222" stroke-width="0.9" fill="none"/>
<text x="437.72" y="303.80" font-family="'Liberation Sans', sans-serif" font-weight="bold" font-size="7.2" text-anchor="middle" fill="#000" stroke="#000" stroke-width="0.4">*</text>
<rect x="443.02" y="312.40" width="5.4" height="64.30" fill="#0000ff"/>
<path d="M445.47 312.40V303.80M444.27 304.10H446.67" stroke="#222" stroke-width="0.9" fill="none"/>
<text x="445.37" y="303.80" font-family="'Liberation Sans', sans-serif" font-weight="bold" font-size="7.2" text-anchor="middle" fill="#000" stroke="#000" stroke-width="0.4">*</text>
<rect x="450.67" y="313.40" width="5.4" height="63.30" fill="#9292ff"/>
<path d="M453.12 313.40V302.00M451.92 302.30H454.32" stroke="#222" stroke-width="0.9" fill="none"/>
<text x="453.02" y="303.20" font-family="'Liberation Sans', sans-serif" font-weight="bold" font-size="7.2" text-anchor="middle" fill="#000" stroke="#000" stroke-width="0.4">*</text>
<rect x="463.29" y="313.00" width="5.4" height="63.70" fill="#00007f"/>
<path d="M465.74 313.00V310.60M464.54 310.90H466.94" stroke="#222" stroke-width="0.9" fill="none"/>
<text x="465.64" y="310.80" font-family="'Liberation Sans', sans-serif" font-weight="bold" font-size="7.2" text-anchor="middle" fill="#000" stroke="#000" stroke-width="0.4">*</text>
<rect x="470.94" y="323.40" width="5.4" height="53.30" fill="#0000ff"/>
<path d="M473.39 323.40V310.40M472.19 310.70H474.59" stroke="#222" stroke-width="0.9" fill="none"/>
<text x="473.29" y="310.80" font-family="'Liberation Sans', sans-serif" font-weight="bold" font-size="7.2" text-anchor="middle" fill="#000" stroke="#000" stroke-width="0.4">*</text>
<rect x="478.59" y="318.00" width="5.4" height="58.70" fill="#9292ff"/>
<path d="M481.04 318.00V311.60M479.84 311.90H482.24" stroke="#222" stroke-width="0.9" fill="none"/>
<text x="480.94" y="311.80" font-family="'Liberation Sans', sans-serif" font-weight="bold" font-size="7.2" text-anchor="middle" fill="#000" stroke="#000" stroke-width="0.4">*</text>
<rect x="491.21" y="318.00" width="5.4" height="58.70" fill="#00007f"/>
<path d="M493.66 318.00V311.00M492.46 311.30H494.86" stroke="#222" stroke-width="0.9" fill="none"/>
<text x="493.56" y="310.80" font-family="'Liberation Sans', sans-serif" font-weight="bold" font-size="7.2" text-anchor="middle" fill="#000" stroke="#000" stroke-width="0.4">*</text>
<rect x="498.86" y="333.00" width="5.4" height="43.70" fill="#0000ff"/>
<path d="M501.31 333.00V325.60M500.11 325.90H502.51" stroke="#222" stroke-width="0.9" fill="none"/>
<text x="501.21" y="326.20" font-family="'Liberation Sans', sans-serif" font-weight="bold" font-size="7.2" text-anchor="middle" fill="#000" stroke="#000" stroke-width="0.4">*</text>
<rect x="506.51" y="338.00" width="5.4" height="38.70" fill="#9292ff"/>
<path d="M508.96 338.00V330.00M507.76 330.30H510.16" stroke="#222" stroke-width="0.9" fill="none"/>
<text x="508.86" y="330.40" font-family="'Liberation Sans', sans-serif" font-weight="bold" font-size="7.2" text-anchor="middle" fill="#000" stroke="#000" stroke-width="0.4">*</text>
<rect x="519.13" y="325.00" width="5.4" height="51.70" fill="#00007f"/>
<path d="M521.58 325.00V321.60M520.38 321.90H522.78" stroke="#222" stroke-width="0.9" fill="none"/>
<text x="521.48" y="321.80" font-family="'Liberation Sans', sans-serif" font-weight="bold" font-size="7.2" text-anchor="middle" fill="#000" stroke="#000" stroke-width="0.4">*</text>
<rect x="526.78" y="339.40" width="5.4" height="37.30" fill="#0000ff"/>
<path d="M529.23 339.40V337.00M528.03 337.30H530.43" stroke="#222" stroke-width="0.9" fill="none"/>
<text x="529.13" y="337.40" font-family="'Liberation Sans', sans-serif" font-weight="bold" font-size="7.2" text-anchor="middle" fill="#000" stroke="#000" stroke-width="0.4">*</text>
<rect x="534.43" y="341.60" width="5.4" height="35.10" fill="#9292ff"/>
<path d="M536.88 341.60V338.60M535.68 338.90H538.08" stroke="#222" stroke-width="0.9" fill="none"/>
<text x="536.78" y="338.80" font-family="'Liberation Sans', sans-serif" font-weight="bold" font-size="7.2" text-anchor="middle" fill="#000" stroke="#000" stroke-width="0.4">*</text>
<path d="M347.95 246.15V376.7H543.39" stroke="#000" stroke-width="1.5" fill="none"/>
<path d="M343.95 376.70H347.95" stroke="#000" stroke-width="1.4"/>
<text transform="translate(342.25 380.70) scale(0.94 1)" font-family="'Liberation Sans', sans-serif" font-weight="bold" font-size="10" text-anchor="end">0</text>
<path d="M343.95 333.35H347.95" stroke="#000" stroke-width="1.4"/>
<text transform="translate(342.25 337.35) scale(0.94 1)" font-family="'Liberation Sans', sans-serif" font-weight="bold" font-size="10" text-anchor="end">50</text>
<path d="M343.95 290.00H347.95" stroke="#000" stroke-width="1.4"/>
<text transform="translate(342.25 294.00) scale(0.94 1)" font-family="'Liberation Sans', sans-serif" font-weight="bold" font-size="10" text-anchor="end">100</text>
<path d="M343.95 246.65H347.95" stroke="#000" stroke-width="1.4"/>
<text transform="translate(342.25 250.65) scale(0.94 1)" font-family="'Liberation Sans', sans-serif" font-weight="bold" font-size="10" text-anchor="end">150</text>
<path d="M361.91 376.7V380.70" stroke="#000" stroke-width="1.3"/>
<text transform="translate(364.71 389.40) rotate(-45)" font-family="'Liberation Sans', sans-serif" font-weight="bold" font-size="9.5" text-anchor="end">None</text>
<path d="M389.83 376.7V380.70" stroke="#000" stroke-width="1.3"/>
<text transform="translate(392.63 389.40) rotate(-45)" font-family="'Liberation Sans', sans-serif" font-weight="bold" font-size="9.5" text-anchor="end">10<tspan font-size="6.5" dy="-5.8" dx="-0.3">-4</tspan></text>
<path d="M417.75 376.7V380.70" stroke="#000" stroke-width="1.3"/>
<text transform="translate(420.55 389.40) rotate(-45)" font-family="'Liberation Sans', sans-serif" font-weight="bold" font-size="9.5" text-anchor="end">10<tspan font-size="6.5" dy="-5.8" dx="-0.3">-3</tspan></text>
<path d="M445.67 376.7V380.70" stroke="#000" stroke-width="1.3"/>
<text transform="translate(448.47 389.40) rotate(-45)" font-family="'Liberation Sans', sans-serif" font-weight="bold" font-size="9.5" text-anchor="end">10<tspan font-size="6.5" dy="-5.8" dx="-0.3">-2</tspan></text>
<path d="M473.59 376.7V380.70" stroke="#000" stroke-width="1.3"/>
<text transform="translate(476.39 389.40) rotate(-45)" font-family="'Liberation Sans', sans-serif" font-weight="bold" font-size="9.5" text-anchor="end">10<tspan font-size="6.5" dy="-5.8" dx="-0.3">-1</tspan></text>
<path d="M501.51 376.7V380.70" stroke="#000" stroke-width="1.3"/>
<text transform="translate(504.31 389.40) rotate(-45)" font-family="'Liberation Sans', sans-serif" font-weight="bold" font-size="9.5" text-anchor="end">1</text>
<path d="M529.43 376.7V380.70" stroke="#000" stroke-width="1.3"/>
<text transform="translate(532.23 389.40) rotate(-45)" font-family="'Liberation Sans', sans-serif" font-weight="bold" font-size="9.5" text-anchor="end">10</text>
<text transform="translate(320.65 382.50) rotate(-90)" font-family="'Liberation Sans', sans-serif" font-size="10.3" textLength="39.3" lengthAdjust="spacingAndGlyphs" stroke="#000" stroke-width="0.3">Relative</text>
<text transform="translate(320.65 340.50) rotate(-90)" font-family="'Liberation Sans', sans-serif" font-size="10.3" textLength="36.7" lengthAdjust="spacingAndGlyphs" stroke="#000" stroke-width="0.3">biofilm</text>
<text transform="translate(320.65 301.20) rotate(-90)" font-family="'Liberation Sans', sans-serif" font-size="10.3" textLength="47.0" lengthAdjust="spacingAndGlyphs" stroke="#000" stroke-width="0.3">formation</text>
<text transform="translate(320.65 250.50) rotate(-90)" font-family="'Liberation Sans', sans-serif" font-size="10.3" textLength="7.8" lengthAdjust="spacingAndGlyphs" stroke="#000" stroke-width="0.3">%</text>
<text x="445.37" y="423.70" font-family="'Liberation Sans', sans-serif" font-weight="bold" font-size="10.3" text-anchor="middle" letter-spacing="0.1" word-spacing="0.4">Trypsin (mg mL<tspan font-size="8.5" dy="-5.6" dx="-0.2" letter-spacing="-0.3">-1</tspan><tspan dy="5.6" dx="0.2">)</tspan></text>
</g>
</svg>
</body></html>
